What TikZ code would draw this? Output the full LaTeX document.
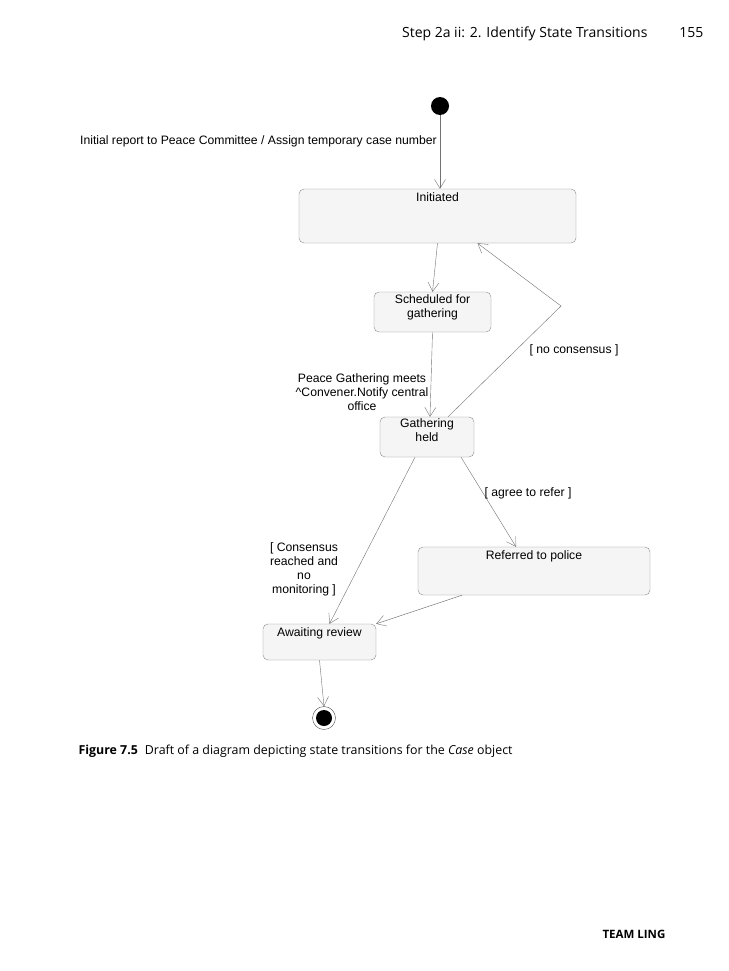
\documentclass[tikz,border=0pt]{standalone}
\usepackage{fontspec}
\setmainfont{Liberation Sans}
\newfontfamily\bookfont{Open Sans}
\usetikzlibrary{arrows.meta}
\tikzstyle{statebox}=[draw=black!45,fill=black!4,rounded corners=5pt,thin,inner sep=2pt]
\tikzstyle{edge}=[draw=black!55,thin,-{Straight Barb[length=9pt,width=11pt]}]
\tikzstyle{guard}=[font=\fontsize{12.2}{14}\selectfont,align=center,inner sep=0pt]

\begin{document}
\begin{tikzpicture}[x=1pt,y=-1pt]
    % page frame
    \useasboundingbox (0,0) rectangle (728,971);
    \fill[white] (0,0) rectangle (728,971);

    % running head
    \node[anchor=base east,font=\bookfont\fontsize{14}{16}\selectfont] (head) at (651,38) {Step 2a ii: 2. Identify State Transitions};
    \node[anchor=base east,font=\bookfont\fontsize{14}{16}\selectfont] (page) at (707,38) {155};

    % pseudo states
    \node[circle,fill=black,minimum size=18pt,inner sep=0pt] (start) at (440,106) {};
    \node[circle,draw=black!70,fill=white,minimum size=23pt,inner sep=0pt] (final) at (324,718) {};
    \node[circle,fill=black,minimum size=16pt,inner sep=0pt] at (final) {};

    % the states
    \node[statebox,minimum width=277pt,minimum height=54pt,label={[guard,below=4pt]north:Initiated}] (init) at (437.5,216) {};
    \node[statebox,minimum width=117pt,minimum height=40pt,label={[guard,below=3pt]north:Scheduled for\\gathering}] (sched) at (432.5,312) {};
    \node[statebox,minimum width=94pt,minimum height=40pt,label={[guard,below=2pt]north:Gathering\\held}] (gath) at (427,437) {};
    \node[statebox,minimum width=232pt,minimum height=48pt,label={[guard,below=4pt]north:Referred to police}] (ref) at (534,571) {};
    \node[statebox,minimum width=113pt,minimum height=36pt,label={[guard,below=4pt]north:Awaiting review}] (await) at (319.5,642) {};

    % transitions
    \coordinate (nc) at (561,306);
    \path[edge] (start.south) -- (start.south |- init.north);
    \path[edge] (init.south) -- (sched.north);
    \path[edge] (sched.south) -- ([xshift=3pt]gath.north);
    \path[edge] ([xshift=21pt]gath.north) -- (nc) -- ([xshift=40pt]init.south);
    \path[edge] ([xshift=-12pt]gath.south) -- ([xshift=10pt]await.north);
    \path[edge] ([xshift=34pt]gath.south) -- ([xshift=-18pt]ref.north);
    \path[edge] ([xshift=-72pt]ref.south) -- (await.north east);
    \path[edge] (await.south) -- (final.north);

    % labels
    \node[guard,anchor=base east] (lstart) at (437,144) {Initial report to Peace Committee / Assign temporary case number};
    \node[guard] (lmeet) at (362,392) {Peace Gathering meets\\\textasciicircum Convener.Notify central\\office};
    \node[guard] (lnc) at (574,350) {[ no consensus ]};
    \node[guard] (lrefer) at (528,493) {[ agree to refer ]};
    \node[guard] (lcons) at (304,569) {[ Consensus\\reached and\\no\\monitoring ]};

    % caption and mark
    \node[anchor=base west,font=\bookfont\fontsize{12.4}{14}\selectfont] (caption) at (75,754) {\textbf{Figure 7.5}\hspace{7pt}Draft of a diagram depicting state transitions for the \textit{Case} object};
    \node[anchor=base west,font=\bookfont\bfseries\fontsize{11.5}{13}\selectfont] (mark) at (599,938) {TEAM LING};
\end{tikzpicture}
\end{document}
